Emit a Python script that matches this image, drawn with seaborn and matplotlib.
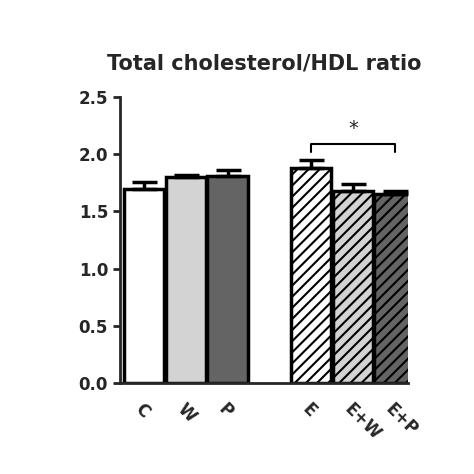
import matplotlib
matplotlib.use("Agg")
import matplotlib.pyplot as plt
import seaborn as sns
import pandas as pd

categories = ["C", "W", "P", "", "E", "E+W", "E+P"]
values = [1.70, 1.80, 1.81, 0.0, 1.88, 1.68, 1.65]
errors = [0.06, 0.02, 0.05, 0.0, 0.07, 0.06, 0.03]
colors = ["white", "#d3d3d3", "#646464", "white", "white", "#d3d3d3", "#646464"]
hatches = ["", "", "", "", "///", "///", "///"]

sns.set_style("ticks")
plt.rcParams['hatch.linewidth'] = 1.5
df = pd.DataFrame({"cat": categories, "val": values})
fig = plt.figure(figsize=(4.74, 4.74), dpi=100)
ax = fig.add_axes([0.253, 0.192, 0.608, 0.603])
sns.barplot(data=df, x="cat", y="val", order=categories, ax=ax, width=0.97,
            edgecolor="black", linewidth=2.5, errorbar=None)
for i, (p, c, h) in enumerate(zip(ax.patches, colors, hatches)):
    p.set_facecolor(c)
    p.set_hatch(h)
    if categories[i] == "":
        p.set_visible(False)
for i, (v, e) in enumerate(zip(values, errors)):
    if categories[i]:
        ax.errorbar(i, v, yerr=[[0], [e]], color="black", capsize=9, capthick=2.5, elinewidth=2.5)
ax.set_ylim(0, 2.5)
ax.set_xlim(-0.58, 6.32)
ax.set_yticks([0, 0.5, 1.0, 1.5, 2.0, 2.5])
ax.set_yticklabels(["0.0", "0.5", "1.0", "1.5", "2.0", "2.5"], fontweight="bold", fontsize=12)
ax.set_xticks(range(len(categories)))
ax.set_xticklabels(categories, rotation=-45, ha="left", va="top", fontweight="bold", fontsize=12,
                   rotation_mode="anchor")
ax.tick_params(axis="x", length=0, pad=12)
ax.tick_params(axis="y", width=2, length=5)
for s in ["left", "bottom"]:
    ax.spines[s].set_linewidth(2)
sns.despine(ax=ax)
ax.set_xlabel("")
ax.set_ylabel("")
ax.plot([4, 4, 6, 6], [2.02, 2.09, 2.09, 2.02], color="black", lw=1.5)
ax.text(5, 2.14, "*", ha="center", va="bottom", fontsize=14)
ax.set_title("Total cholesterol/HDL ratio", fontweight="bold", fontsize=15, pad=20)
fig.savefig("out.png", dpi=100)
